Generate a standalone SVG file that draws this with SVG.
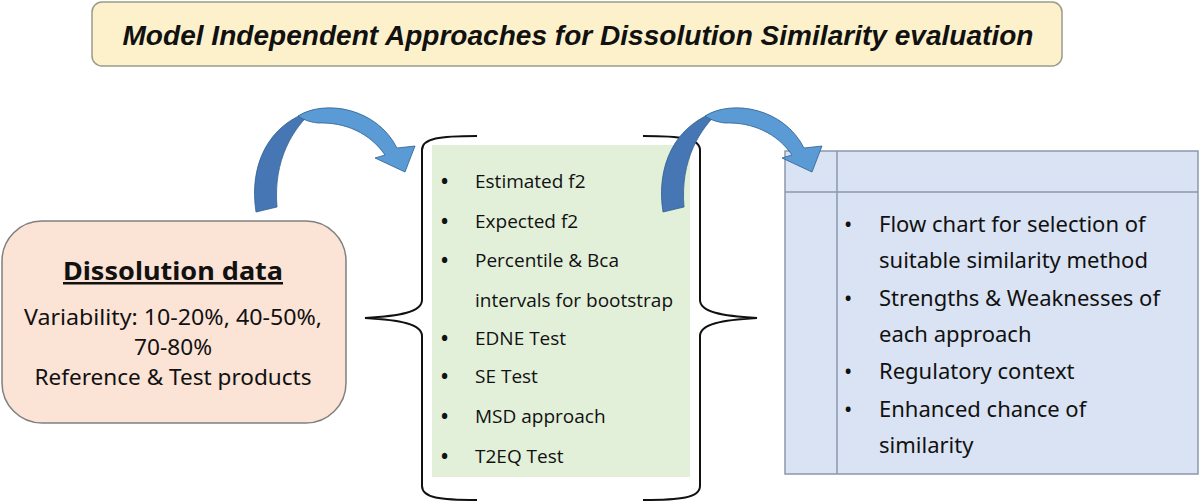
<svg xmlns="http://www.w3.org/2000/svg" width="1200" height="504" viewBox="0 0 1200 504">
<style>
.t{font-family:"Liberation Sans",Arial,sans-serif;fill:#111}
.g{font-family:"Open Sans","Liberation Sans",sans-serif;font-size:19px;fill:#111}
.b{font-family:"Noto Sans","Liberation Sans",sans-serif;font-size:22px;fill:#111}
.l{font-family:"Noto Sans","Liberation Sans",sans-serif;font-size:21px;fill:#111}
.bu{font-weight:bold}
.brace{fill:none;stroke:#111;stroke-width:2}
.dk{fill:#4677b4;stroke:#2f5f8f;stroke-width:0.8}
.lt{fill:#5b9bd5;stroke:#2f5f8f;stroke-width:0.8}
</style>
<defs>
<g id="arrow">
<path class="dk" d="M256 212 C249 168 266 124 314 110 C293 128 273 160 277 207 Z"/>
<path class="lt" d="M298 116 C325 99 377 108 397 148 L415 146 L405 172 L375 158 L385 155 C370 133 345 122 318 123 C309 122 302 119 298 116 Z"/>
</g>
</defs>
<g id="title">
<rect x="92" y="2" width="970" height="64" rx="10" fill="#fdf1cc" stroke="#9a9a8a" stroke-width="1.5"/>
<text class="t" x="578" y="45" font-size="27" font-weight="bold" font-style="italic" text-anchor="middle" textLength="911" lengthAdjust="spacingAndGlyphs">Model Independent Approaches for Dissolution Similarity evaluation</text>
</g>
<g id="dissolution-data">
<rect x="2" y="221" width="344" height="202" rx="40" fill="#fbe3d6" stroke="#808080" stroke-width="1.5"/>
<text class="l" x="173" y="280" style="font-size:25px;font-weight:bold" text-anchor="middle" text-decoration="underline" textLength="220" lengthAdjust="spacingAndGlyphs">Dissolution data</text>
<text class="l" x="173" y="325" text-anchor="middle" textLength="298" lengthAdjust="spacingAndGlyphs">Variability: 10-20%, 40-50%,</text>
<text class="l" x="173" y="355" text-anchor="middle" textLength="78" lengthAdjust="spacingAndGlyphs">70-80%</text>
<text class="l" x="173" y="385" text-anchor="middle" textLength="277" lengthAdjust="spacingAndGlyphs">Reference &amp; Test products</text>
</g>
<g id="approaches">
<rect x="432" y="145" width="258" height="332" fill="#e2efd9"/>
<path class="brace" d="M477 136 C440 136 422 138 422 150 L422 300 C422 312 400 316 365 318 C400 320 422 324 422 336 L422 486 C422 498 440 500 477 500"/>
<path class="brace" d="M643 136 C680 136 700 138 700 150 L700 300 C700 312 722 316 757 318 C722 320 700 324 700 336 L700 486 C700 498 680 500 643 500"/>
<g class="g">
<text class="bu" x="441" y="188">•</text><text x="475" y="188">Estimated f2</text>
<text class="bu" x="441" y="228">•</text><text x="475" y="228">Expected f2</text>
<text class="bu" x="441" y="267">•</text><text x="475" y="267">Percentile &amp; Bca</text>
<text x="475" y="307">intervals for bootstrap</text>
<text class="bu" x="441" y="345">•</text><text x="475" y="345">EDNE Test</text>
<text class="bu" x="441" y="383">•</text><text x="475" y="383">SE Test</text>
<text class="bu" x="441" y="423">•</text><text x="475" y="423">MSD approach</text>
<text class="bu" x="441" y="463">•</text><text x="475" y="463">T2EQ Test</text>
</g>
</g>
<g id="outcomes">
<rect x="785" y="151" width="413" height="323" fill="#dae3f3" stroke="#8a99ad" stroke-width="1.5"/>
<line x1="837" y1="151" x2="837" y2="474" stroke="#8a99ad" stroke-width="1.5"/>
<line x1="785" y1="192" x2="1198" y2="192" stroke="#8a99ad" stroke-width="1.5"/>
<g class="b">
<text x="844" y="232">•</text><text x="879" y="232">Flow chart for selection of</text>
<text x="879" y="268">suitable similarity method</text>
<text x="844" y="306">•</text><text x="879" y="306">Strengths &amp; Weaknesses of</text>
<text x="879" y="342">each approach</text>
<text x="844" y="379">•</text><text x="879" y="379">Regulatory context</text>
<text x="844" y="417">•</text><text x="879" y="417">Enhanced chance of</text>
<text x="879" y="453">similarity</text>
</g>
</g>
<g id="connectors">
<use href="#arrow"/>
<use href="#arrow" transform="translate(407,0)"/>
</g>
</svg>
